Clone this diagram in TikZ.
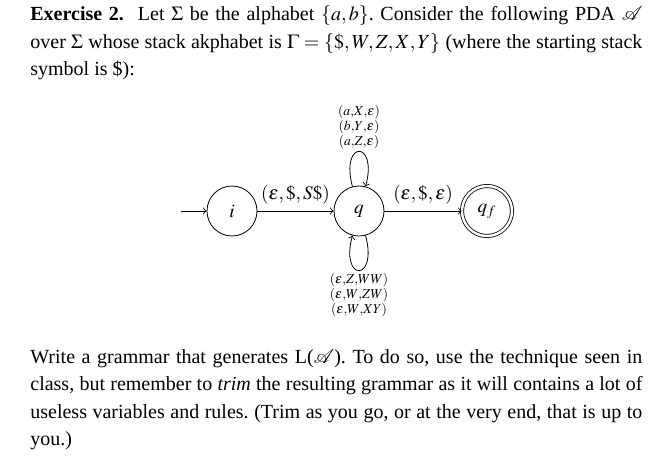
\documentclass[tikz,border=0pt]{standalone}
\usepackage{mathptmx}
\usepackage{mathrsfs}
\usepackage{fontspec}
\setmainfont{Liberation Serif}

\tikzset{
  para/.style={anchor=base west,inner sep=0pt,text width=306pt,align=justify,
    font=\fontsize{10pt}{13.7pt}\selectfont},
  state/.style={circle,draw,minimum size=25pt,inner sep=0pt},
  final/.style={state,double,double distance=1.2pt},
  looplabel/.style={align=center,inner sep=1pt,font=\fontsize{6.8pt}{7.6pt}\selectfont}
}

\begin{document}
\begin{tikzpicture}[x=0.5pt,y=-0.5pt,font=\fontsize{9.6pt}{11pt}\selectfont]
    \useasboundingbox (0,0) rectangle (658,459);
    % exercise text
    \node[para] (intro) at (30,20.7) {\hyphenpenalty=10000\frenchspacing
      \textbf{Exercise 2.}\hspace{0.7em}Let $\Sigma$ be the alphabet $\{a,b\}$. Consider the following PDA $\mathscr{A}$\linebreak
      over $\Sigma$ whose stack akphabet is $\Gamma=\{\$,W,Z,X,Y\}$ (where the starting stack\linebreak
      symbol is \$):};
    \node[para] (task) at (30,363.3) {\hyphenpenalty=10000\frenchspacing
      Write a grammar that generates L($\mathscr{A}$). To do so, use the technique seen in\linebreak
      class, but remember to \emph{trim} the resulting grammar as it will contains a lot of\linebreak
      useless variables and rules. (Trim as you go, or at the very end, that is up to\linebreak
      you.)};
    % the automaton
    \node[state] (i) at (232,211) {$i$};
    \node[state] (q) at (359,211) {$q$};
    \node[final] (qf) at (487,211) {$q_f$};
    \coordinate (start) at (181,211);
    \draw[->] (start) -- (i);
    \draw[->] (i) -- (q) node[midway,above]{$(\varepsilon,\$,S\$)$};
    \draw[->] (q) -- (qf) node[midway,above]{$(\varepsilon,\$,\varepsilon)$};
    \path[->] (q) edge[out=105,in=75,distance=8.5mm] node[looplabel,above]{$(a{,}X{,}\varepsilon)$\\$(b{,}Y{,}\varepsilon)$\\$(a{,}Z{,}\varepsilon)$} (q);
    \path[->] (q) edge[out=-75,in=-105,distance=8.5mm] node[looplabel,below]{$(\varepsilon{,}Z{,}WW)$\\$(\varepsilon{,}W{,}ZW)$\\$(\varepsilon{,}W{,}XY)$} (q);
\end{tikzpicture}
\end{document}
